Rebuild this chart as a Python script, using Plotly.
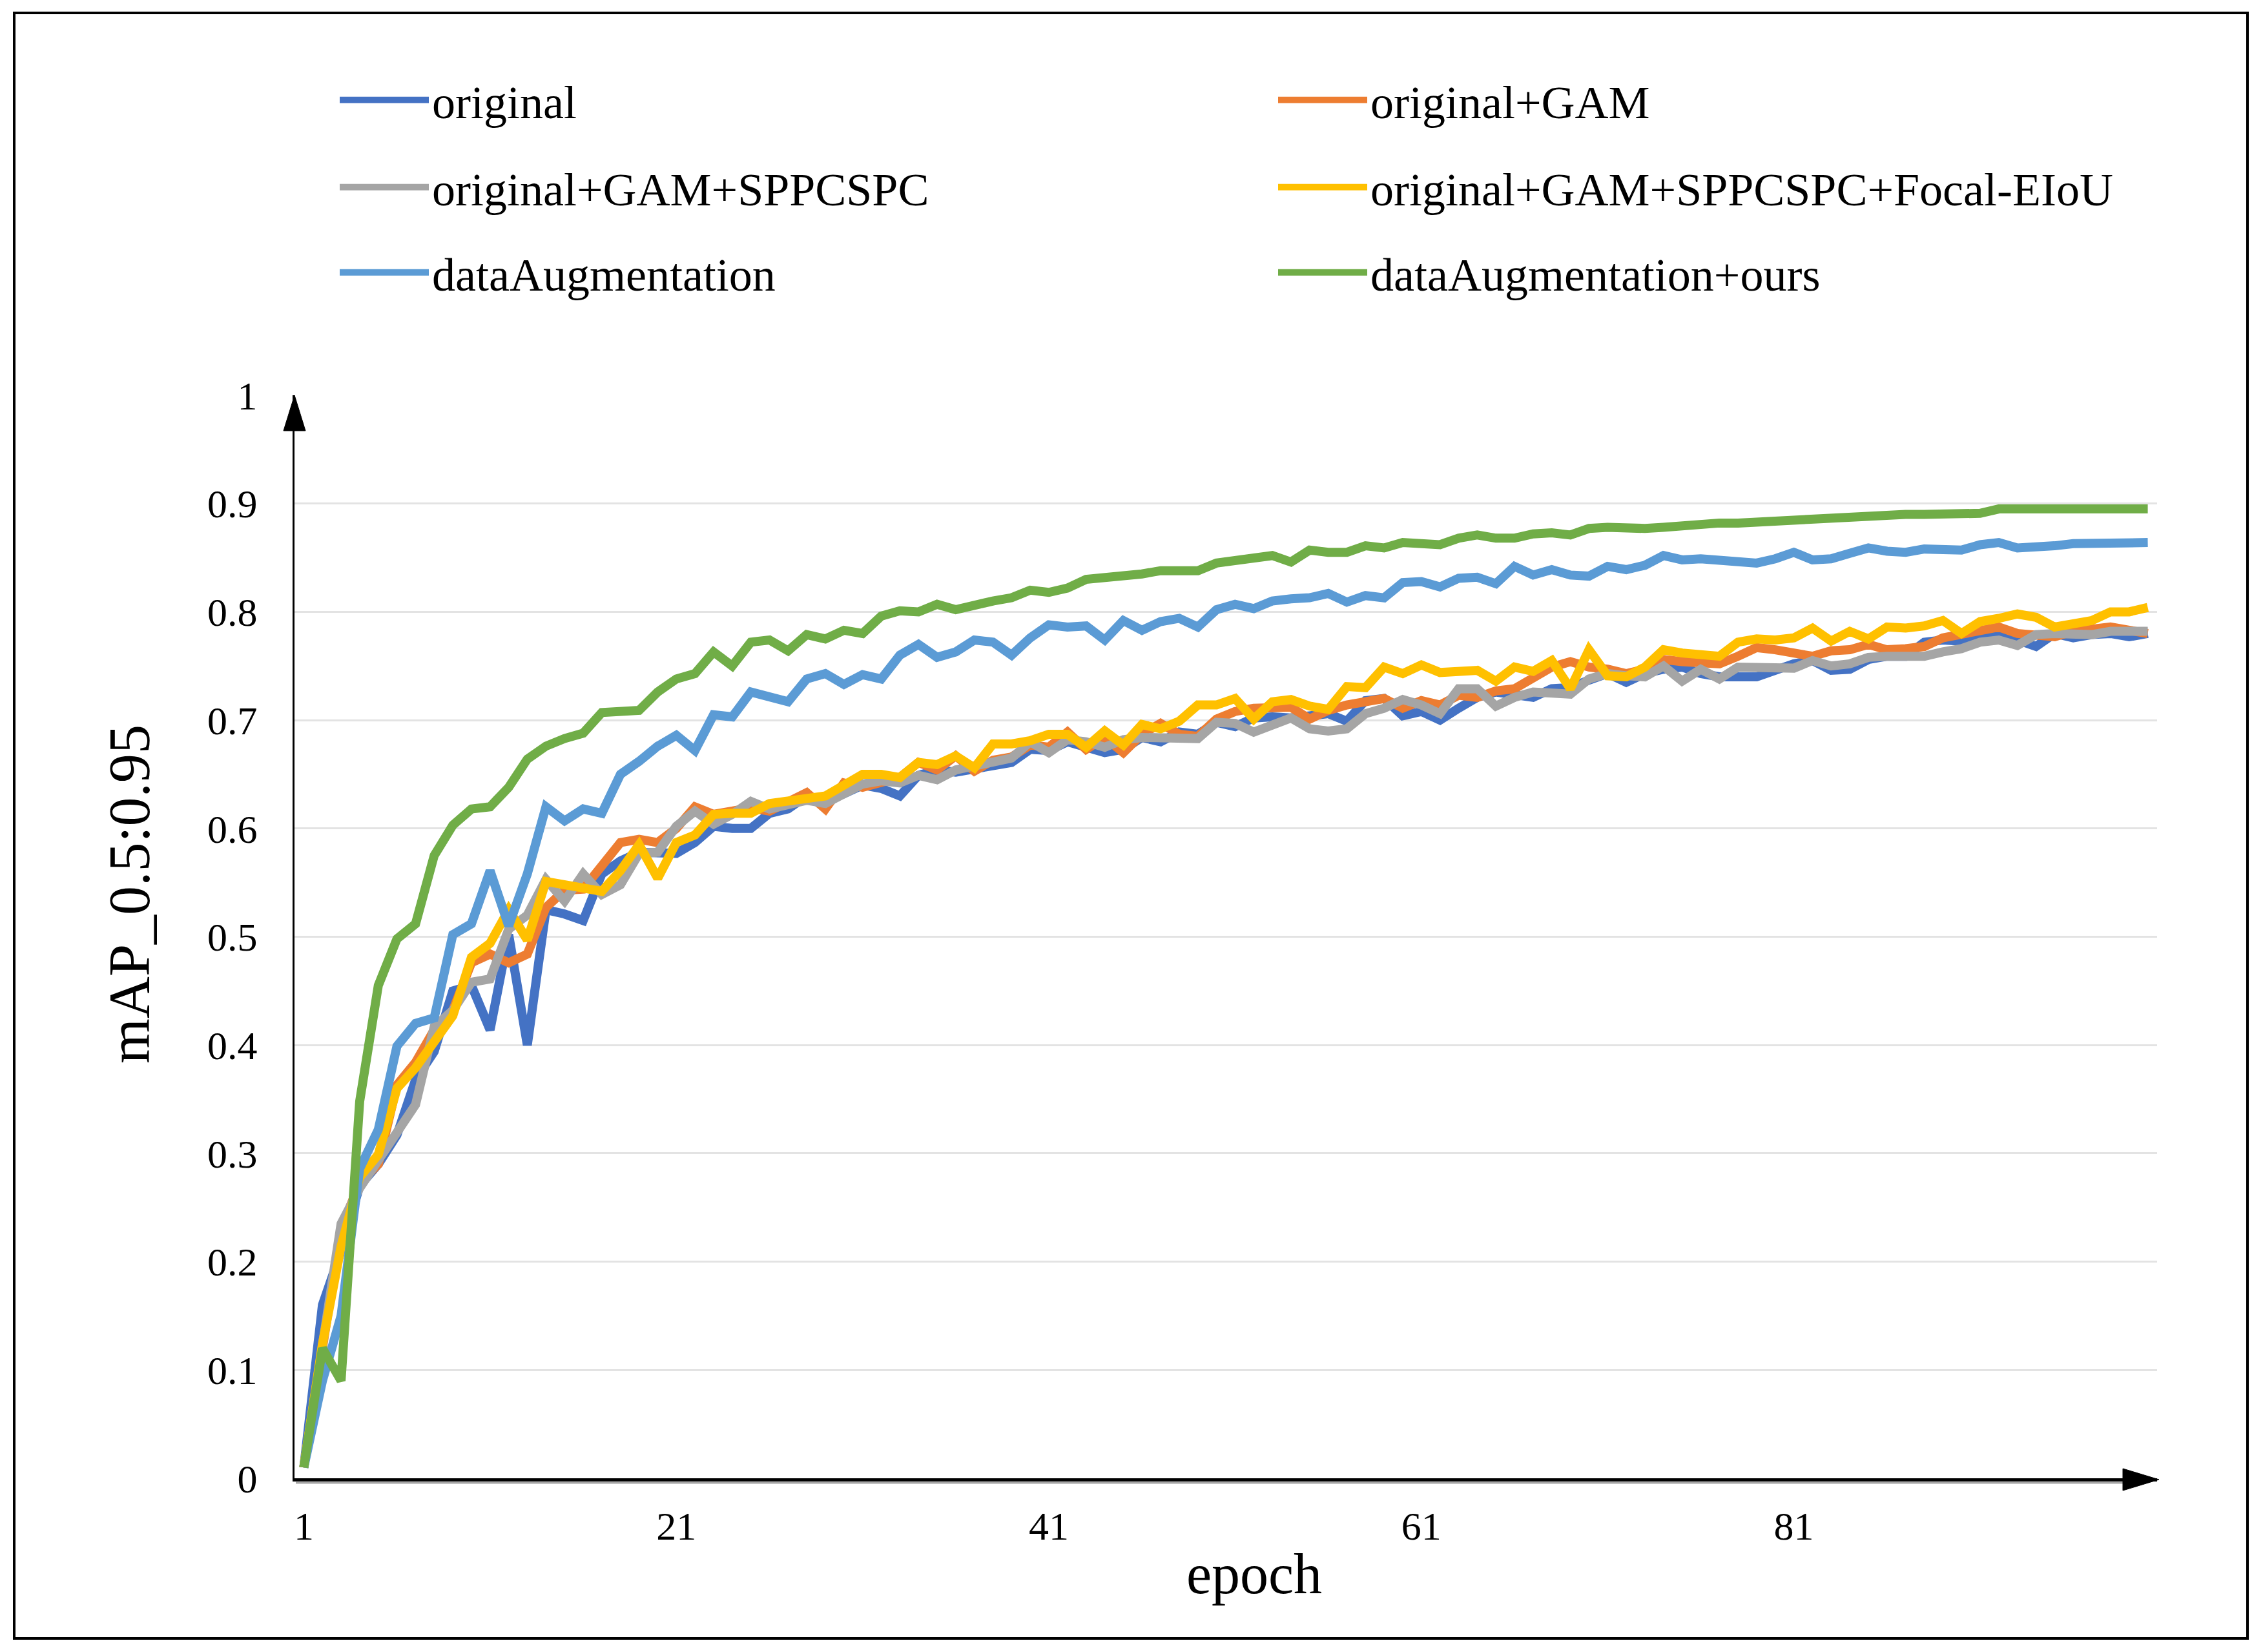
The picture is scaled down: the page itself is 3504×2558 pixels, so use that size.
import plotly.graph_objects as go

# ---------------- data ----------------
epochs = list(range(1, 101))

series_names = [
    "original",
    "original+GAM",
    "original+GAM+SPPCSPC",
    "original+GAM+SPPCSPC+Focal-EIoU",
    "dataAugmentation",
    "dataAugmentation+ours",
]

original = [
    0.01, 0.16, 0.21, 0.27, 0.29, 0.317, 0.368, 0.394, 0.45, 0.455,
    0.414, 0.502, 0.40, 0.525, 0.521, 0.515, 0.558, 0.57, 0.578, 0.577,
    0.577, 0.587, 0.602, 0.60, 0.60, 0.614, 0.618, 0.63, 0.625, 0.632,
    0.64, 0.637, 0.63, 0.649, 0.654, 0.652, 0.655, 0.658, 0.661, 0.673,
    0.672, 0.68, 0.675, 0.67, 0.673, 0.684, 0.68, 0.689, 0.687, 0.698,
    0.694, 0.702, 0.703, 0.702, 0.704, 0.706, 0.699, 0.718, 0.72, 0.704,
    0.708, 0.70, 0.711, 0.721, 0.726, 0.724, 0.721, 0.729, 0.73, 0.737,
    0.743, 0.735, 0.743, 0.747, 0.749, 0.743, 0.74, 0.74, 0.74, 0.746,
    0.752, 0.755, 0.746, 0.747, 0.756, 0.759, 0.759, 0.772, 0.774, 0.773,
    0.776, 0.779, 0.774, 0.768, 0.78, 0.776, 0.779, 0.78, 0.777, 0.78,
]

original_gam = [
    0.01, 0.12, 0.23, 0.273, 0.29, 0.363, 0.384, 0.414, 0.432, 0.476,
    0.484, 0.476, 0.484, 0.527, 0.543, 0.544, 0.565, 0.587, 0.59, 0.587,
    0.60, 0.62, 0.613, 0.615, 0.619, 0.616, 0.625, 0.633, 0.618, 0.642,
    0.638, 0.642, 0.647, 0.661, 0.654, 0.667, 0.653, 0.663, 0.666, 0.677,
    0.675, 0.689, 0.673, 0.684, 0.67, 0.687, 0.697, 0.687, 0.685, 0.701,
    0.708, 0.711, 0.711, 0.712, 0.701, 0.709, 0.714, 0.718, 0.72, 0.711,
    0.718, 0.714, 0.723, 0.721, 0.727, 0.729, 0.74, 0.749, 0.754, 0.749,
    0.747, 0.743, 0.747, 0.756, 0.754, 0.752, 0.752, 0.759, 0.767, 0.765,
    0.761, 0.759, 0.764, 0.765, 0.77, 0.765, 0.766, 0.768, 0.776, 0.78,
    0.783, 0.786, 0.78, 0.779, 0.777, 0.782, 0.785, 0.786, 0.783, 0.78,
]

original_gam_spp = [
    0.01, 0.12, 0.235, 0.268, 0.294, 0.317, 0.345, 0.417, 0.432, 0.458,
    0.461, 0.507, 0.52, 0.553, 0.533, 0.558, 0.539, 0.548, 0.577, 0.578,
    0.602, 0.616, 0.604, 0.613, 0.625, 0.618, 0.621, 0.626, 0.623, 0.633,
    0.641, 0.644, 0.642, 0.649, 0.645, 0.654, 0.658, 0.661, 0.665, 0.68,
    0.67, 0.682, 0.68, 0.675, 0.682, 0.684, 0.684, 0.684, 0.683, 0.698,
    0.697, 0.689, 0.696, 0.702, 0.692, 0.69, 0.692, 0.706, 0.711, 0.719,
    0.714, 0.706, 0.729, 0.729, 0.713, 0.721, 0.726, 0.725, 0.724, 0.738,
    0.743, 0.741, 0.74, 0.75, 0.736, 0.747, 0.738, 0.749, 0.749, 0.748,
    0.748, 0.755, 0.75, 0.752, 0.758, 0.759, 0.76, 0.759, 0.763, 0.766,
    0.772, 0.774, 0.769, 0.779, 0.78, 0.78, 0.779, 0.782, 0.782, 0.782,
]

original_gam_spp_focal = [
    0.01, 0.124, 0.214, 0.278, 0.299, 0.36, 0.379, 0.402, 0.427, 0.481,
    0.494, 0.525, 0.497, 0.551, 0.548, 0.544, 0.542, 0.561, 0.585, 0.554,
    0.587, 0.594, 0.613, 0.614, 0.614, 0.623, 0.626, 0.628, 0.63, 0.64,
    0.65, 0.65, 0.647, 0.661, 0.659, 0.667, 0.656, 0.678, 0.678, 0.681,
    0.687, 0.687, 0.675, 0.69, 0.677, 0.696, 0.692, 0.699, 0.714, 0.714,
    0.72, 0.701, 0.717, 0.719, 0.713, 0.71, 0.731, 0.73, 0.749, 0.743,
    0.751, 0.744, 0.746, 0.746, 0.736, 0.749, 0.745, 0.755, 0.729, 0.765,
    0.741, 0.74, 0.749, 0.765, 0.762, 0.761, 0.759, 0.772, 0.775, 0.774,
    0.776, 0.785, 0.773, 0.782, 0.775, 0.786, 0.785, 0.787, 0.792, 0.78,
    0.791, 0.794, 0.798, 0.795, 0.786, 0.789, 0.792, 0.80, 0.80, 0.804,
]

data_aug = [
    0.01, 0.09, 0.15, 0.286, 0.322, 0.399, 0.42, 0.425, 0.502, 0.512,
    0.561, 0.51, 0.558, 0.62, 0.607, 0.618, 0.614, 0.65, 0.662, 0.676,
    0.686, 0.672, 0.705, 0.703, 0.726, 0.722, 0.717, 0.738, 0.743, 0.733,
    0.742, 0.738, 0.76, 0.77, 0.758, 0.763, 0.774, 0.772, 0.76, 0.776,
    0.788, 0.786, 0.787, 0.774, 0.792, 0.783, 0.791, 0.794, 0.786, 0.802,
    0.807, 0.803, 0.81, 0.812, 0.813, 0.817, 0.809, 0.815, 0.813, 0.827,
    0.828, 0.823, 0.831, 0.832, 0.826, 0.842, 0.834, 0.839, 0.834, 0.833,
    0.842, 0.839, 0.843, 0.852, 0.848, 0.849, 0.848, 0.846, 0.845, 0.849,
    0.855, 0.848, 0.849, 0.854, 0.859, 0.856, 0.855, 0.858, 0.858, 0.857,
    0.862, 0.864, 0.859, 0.859, 0.861, 0.863, 0.863, 0.863, 0.864, 0.864,
]

data_aug_ours = [
    0.01, 0.12, 0.09, 0.348, 0.455, 0.498, 0.512, 0.575, 0.603, 0.618,
    0.62, 0.638, 0.664, 0.676, 0.683, 0.688, 0.707, 0.709, 0.709, 0.726,
    0.738, 0.743, 0.763, 0.75, 0.772, 0.774, 0.764, 0.779, 0.775, 0.783,
    0.78, 0.796, 0.801, 0.80, 0.807, 0.802, 0.807, 0.81, 0.813, 0.82,
    0.818, 0.822, 0.83, 0.831, 0.834, 0.835, 0.838, 0.839, 0.838, 0.845,
    0.848, 0.849, 0.852, 0.846, 0.857, 0.855, 0.855, 0.861, 0.859, 0.864,
    0.862, 0.862, 0.868, 0.871, 0.868, 0.868, 0.872, 0.873, 0.871, 0.877,
    0.878, 0.877, 0.877, 0.878, 0.88, 0.882, 0.882, 0.882, 0.883, 0.885,
    0.886, 0.887, 0.887, 0.888, 0.889, 0.889, 0.89, 0.89, 0.891, 0.892,
    0.891, 0.895, 0.895, 0.894, 0.895, 0.896, 0.895, 0.895, 0.895, 0.895,
]

series_values = [original, original_gam, original_gam_spp,
                 original_gam_spp_focal, data_aug, data_aug_ours]

x_tick_vals = [1, 21, 41, 61, 81]
x_tick_text = ["1", "21", "41", "61", "81"]
y_tick_vals = [0, 0.1, 0.2, 0.3, 0.4, 0.5, 0.6, 0.7, 0.8, 0.9, 1.0]
y_tick_text = ["0", "0.1", "0.2", "0.3", "0.4", "0.5", "0.6", "0.7", "0.8", "0.9", "1"]

x_title = "epoch"
y_title = "mAP_0.5:0.95"

# ---------------- style ----------------
colors = ["#4472C4", "#ED7D31", "#A5A5A5", "#FFC000", "#5B9BD5", "#70AD47"]
FONT = "Liberation Serif"
W, H = 3504, 2558
L, R, T, B = 456, 3340, 612, 2289   # plot area in pixels

def pxx(px):
    return (px - L) / (R - L)

def pxy(py):
    return (B - py) / (B - T)

# legend positions (pixels): swatch start x, row centre y
legend_pos = [(526, 155), (1979, 155), (526, 290), (1979, 290), (526, 422), (1979, 422)]
legend_ids = ["legend", "legend2", "legend3", "legend4", "legend5", "legend6"]

fig = go.Figure()
for i, (name, vals) in enumerate(zip(series_names, series_values)):
    fig.add_trace(go.Scatter(
        x=epochs, y=vals, mode="lines", name=name,
        line=dict(color=colors[i], width=14),
        legend=legend_ids[i], showlegend=True,
    ))

layout_legends = {}
for lid, (lx, ly) in zip(legend_ids, legend_pos):
    layout_legends[lid] = dict(
        xref="container", yref="container",
        x=(lx - 5) / W, y=1 - ly / H,
        xanchor="left", yanchor="middle",
        orientation="h",
        font=dict(family=FONT, size=72, color="black"),
        bgcolor="rgba(0,0,0,0)", borderwidth=0,
        itemwidth=138,
        visible=True,
    )

shapes = [
    # outer frame
    dict(type="rect", xref="paper", yref="paper",
         x0=pxx(22), x1=pxx(3480), y0=pxy(2537), y1=pxy(20),
         line=dict(color="black", width=4), fillcolor="rgba(0,0,0,0)", layer="below"),
    # soft shadow under the x axis
    dict(type="line", xref="paper", yref="paper",
         x0=pxx(458), x1=pxx(3290), y0=pxy(2296), y1=pxy(2296),
         line=dict(color="#A6A6A6", width=3), layer="below"),
    # y-axis arrow head
    dict(type="path", xref="paper", yref="paper",
         path="M {:.6f},{:.6f} L {:.6f},{:.6f} L {:.6f},{:.6f} Z".format(
             pxx(456), pxy(612), pxx(439), pxy(667), pxx(473), pxy(667)),
         fillcolor="black", line=dict(color="black", width=1), layer="above"),
    # x-axis arrow head
    dict(type="path", xref="paper", yref="paper",
         path="M {:.6f},{:.6f} L {:.6f},{:.6f} L {:.6f},{:.6f} Z".format(
             pxx(3343), pxy(2291), pxx(3287), pxy(2274), pxx(3287), pxy(2308)),
         fillcolor="black", line=dict(color="black", width=1), layer="above"),
]

annotations = [
    dict(text=x_title, xref="paper", yref="paper", x=pxx(1942), y=pxy(2437),
         xanchor="center", yanchor="middle", showarrow=False,
         font=dict(family=FONT, size=88, color="black")),
    dict(text=y_title, xref="paper", yref="paper", x=pxx(200), y=pxy(1385),
         xanchor="center", yanchor="middle", showarrow=False, textangle=-90,
         font=dict(family=FONT, size=90, color="black")),
]

fig.update_layout(
    width=W, height=H, autosize=False,
    margin=dict(l=L, r=W - R, t=T, b=H - B, pad=0),
    paper_bgcolor="white", plot_bgcolor="white",
    font=dict(family=FONT, color="black"),
    showlegend=True,
    shapes=shapes,
    annotations=annotations,
    **layout_legends,
)

fig.update_xaxes(
    range=[0.5, 100.5], tickmode="array", tickvals=x_tick_vals, ticktext=x_tick_text,
    showgrid=False, zeroline=False,
    showline=True, linecolor="black", linewidth=5,
    ticks="outside", ticklen=16, tickcolor="rgba(0,0,0,0)",
    tickfont=dict(family=FONT, size=62, color="black"),
)
fig.update_yaxes(
    range=[0, 1], tickmode="array", tickvals=y_tick_vals, ticktext=y_tick_text,
    showgrid=True, gridcolor="#E3E3E3", gridwidth=3, zeroline=False,
    showline=True, linecolor="black", linewidth=3,
    ticks="outside", ticklen=42, tickcolor="rgba(0,0,0,0)",
    tickfont=dict(family=FONT, size=62, color="black"),
)

fig.write_html(
    "out.html",
    config={"displayModeBar": False},
    post_script="document.body.style.margin='0';document.body.style.overflow='hidden';",
)
